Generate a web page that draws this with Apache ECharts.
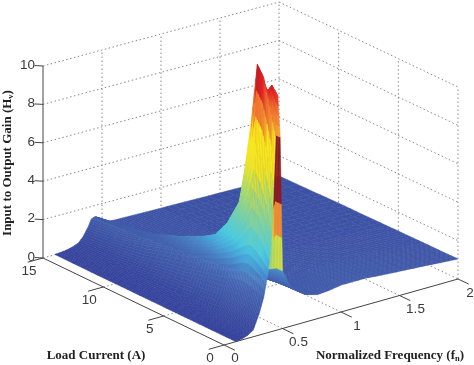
<!DOCTYPE html>
<html><head><meta charset="utf-8">
<style>html,body{margin:0;padding:0;background:#fff}#c{width:474px;height:365px}</style>
<script src="https://cdn.jsdelivr.net/npm/echarts@6/dist/echarts.min.js"></script>
</head><body><div id="c"></div>
<script>
// Data
var frequency = [0.1,0.15,0.2,0.25,0.3,0.34,0.38,0.41,0.44,0.46,0.48,0.5,0.55,0.6,0.7,0.8,0.9,1,1.2,1.4,1.7,2];
var current = [0,0.5,1,1.5,2,2.5,3,4,5,6,8,10,12,15];
var gain = [
 [.01,.05,.15,.35,1.1,1.9,3.2,5,10,12.2,10,3,2.3,1.85,1.42,1.25,1.3,1.4,1.4,1.3,1.18,1.04],
 [.01,.05,.15,.4,1.1,2,3.6,6.5,11.5,12.6,10,3,2.25,1.85,1.42,1.26,1.29,1.38,1.38,1.29,1.17,1.04],
 [.01,.05,.16,.45,1.15,2.1,3.9,7.5,12.9,12,8,2.8,2.2,1.82,1.42,1.27,1.28,1.35,1.35,1.28,1.16,1.03],
 [.01,.05,.17,.48,1.2,2.2,4.1,8,13.4,11,6,2.7,2.1,1.8,1.42,1.27,1.26,1.32,1.32,1.26,1.15,1.03],
 [.01,.05,.18,.5,1.2,2.2,3.9,6.5,10.3,8,4.5,2.6,2.05,1.75,1.4,1.25,1.25,1.3,1.3,1.25,1.15,1.03],
 [.01,.05,.18,.5,1.2,2.1,3.6,5.5,7.8,6.2,3.8,2.4,2,1.7,1.38,1.24,1.24,1.28,1.28,1.23,1.14,1.03],
 [.01,.05,.18,.5,1.15,2,3.3,4.6,5.8,5,3.3,2.3,1.9,1.65,1.36,1.23,1.23,1.26,1.26,1.21,1.13,1.03],
 [.01,.05,.17,.45,1.1,1.85,2.9,3.8,4.4,4.1,3,2.2,1.75,1.55,1.33,1.22,1.21,1.22,1.22,1.18,1.11,1.02],
 [.01,.04,.16,.42,1,1.7,2.6,3.2,3.5,3.35,2.7,2.1,1.65,1.45,1.3,1.2,1.2,1.2,1.2,1.15,1.1,1.02],
 [.01,.04,.15,.38,.9,1.5,2.3,2.85,3.1,3,2.5,2,1.55,1.35,1.25,1.17,1.16,1.16,1.16,1.12,1.07,1.01],
 [.01,.04,.13,.32,.75,1.25,1.9,2.3,2.5,2.4,2.1,1.75,1.4,1.25,1.17,1.1,1.1,1.1,1.1,1.08,1.03,1],
 [.01,.04,.11,.26,.55,.95,1.5,1.85,2,1.95,1.75,1.5,1.25,1.15,1.1,1.05,1.05,1.05,1.05,1.05,1,1],
 [.01,.03,.1,.2,.42,.75,1.2,1.55,1.7,1.65,1.5,1.3,1.1,1.05,1.03,1,1,.99,.98,.97,.95,.97],
 [.02,.04,.08,.16,.28,.55,.95,1.35,1.42,1.35,1.25,1.15,1,.97,.96,.95,.94,.93,.92,.9,.88,.94]
];
var gainTicks = [0,2,4,6,8,10];
var frequencyTicks = [0,0.5,1,1.5,2];
var currentTicks = [0,5,10,15];
var gainStops = [0,1,2,2.6,3.3,4,5.5,7,8,9.8,10.2,11.5,12.3,13.4];
var gainColors = ['#33409a','#3d53a5','#4464b0','#4a7cc0','#49a8da','#4ccbe0','#7fd0a0','#b8dc5c','#f0e428','#f8e81c','#f4a030','#ee6a30','#e02024','#8a1c20'];

// View of the box
var cornerL=[43,258], cornerF=[224,345], cornerR=[458,279], cornerB=[279,194], unitZ=19.2, cellSplit=4;
function project(f,i,z){
  var u=f/2, v=i/15, a=(1-u)*(1-v), b=u*(1-v), c=u*v, d=(1-u)*v;
  return [a*cornerF[0]+b*cornerR[0]+c*cornerB[0]+d*cornerL[0],
          a*cornerF[1]+b*cornerR[1]+c*cornerB[1]+d*cornerL[1]-z*unitZ];
}
function hex(s){return [parseInt(s.substr(1,2),16),parseInt(s.substr(3,2),16),parseInt(s.substr(5,2),16)];}
function colorOf(z){
  if(z>=gainStops[gainStops.length-1]) return gainColors[gainColors.length-1];
  for(var k=0;k<gainStops.length-1;k++){
    if(z<gainStops[k+1]){
      var t=Math.max(0,(z-gainStops[k])/(gainStops[k+1]-gainStops[k])),a=hex(gainColors[k]),b=hex(gainColors[k+1]);
      return 'rgb('+[0,1,2].map(function(n){return Math.round(a[n]+(b[n]-a[n])*t);}).join(',')+')';
    }
  }
}

// quads far to near
var quads=[];
for(var r=current.length-2;r>=0;r--) for(var q=frequency.length-2;q>=0;q--) quads.push([q,r]);

var lineItems=[];
function seg(a,b,kind){lineItems.push(a.concat(b).concat([kind]));}
// dotted walls and floor
gainTicks.forEach(function(z){
  seg([0,15,z],[2,15,z],0); seg([2,15,z],[2,0,z],0);
});
frequencyTicks.forEach(function(f){
  if(f>0) seg([f,15,0],[f,15,10],0);
  if(f>0&&f<2) seg([f,0,0],[f,15,0],0);
});
currentTicks.forEach(function(i){
  if(i<15) seg([2,i,0],[2,i,10],0);
  if(i>0&&i<15) seg([0,i,0],[2,i,0],0);
});
// solid axes
seg([0,15,0],[0,0,0],1); seg([0,0,0],[2,0,0],1); seg([0,15,0],[0,15,10],1);
frequencyTicks.forEach(function(f){seg([f,0,0],[f,-0.9,0],1);});
currentTicks.forEach(function(i){seg([0,i,0],[-0.13,i,0],1);});
gainTicks.forEach(function(z){seg([0,15,z],[-0.04,15.3,z],1);});

var textItems=[];
gainTicks.forEach(function(z){var p=project(0,15,z);textItems.push({x:p[0]-8,y:p[1]-1,t:String(z),a:'right'});});
currentTicks.forEach(function(i){var p=project(0,i,0);textItems.push({x:p[0]-14,y:p[1]+13,t:String(i),a:'center'});});
frequencyTicks.forEach(function(f){var p=project(f,0,0);textItems.push({x:p[0]+(f===0?11:f===2?12:16),y:p[1]+(f===0?13:14),t:String(f),a:'center'});});
var titleLeft='Load Current (A)', titleRight='Normalized Frequency (f{s|n})', titleZ='Input to Output Gain (H{s|v})';

var chart=echarts.init(document.getElementById('c'),null,{renderer:'canvas'});
function px(api,p){return api.coord(p);}
function lerpPt(a,b,t){return [a[0]+(b[0]-a[0])*t,a[1]+(b[1]-a[1])*t];}
chart.setOption({
  animation:false, backgroundColor:'#fff',
  grid:{left:0,right:0,top:0,bottom:0},
  xAxis:{type:'value',min:0,max:474,show:false},
  yAxis:{type:'value',min:0,max:365,inverse:true,show:false},
  series:[
   {type:'custom',coordinateSystem:'cartesian2d',silent:true,clip:false,z:1,
    data:lineItems.map(function(d,n){return [n];}).filter(function(d){return lineItems[d[0]][6]===0;}),
    renderItem:function(p,api){var d=lineItems[api.value(0)];
      var a=px(api,project(d[0],d[1],d[2])),b=px(api,project(d[3],d[4],d[5]));
      return {type:'line',shape:{x1:a[0],y1:a[1],x2:b[0],y2:b[1]},style:{stroke:'#8a8a8a',lineWidth:1,lineDash:[1.5,2.5],fill:null}};}},
   {type:'custom',coordinateSystem:'cartesian2d',silent:true,clip:false,z:2,
    data:lineItems.map(function(d,n){return [n];}).filter(function(d){return lineItems[d[0]][6]===1;}),
    renderItem:function(p,api){var d=lineItems[api.value(0)];
      var a=px(api,project(d[0],d[1],d[2])),b=px(api,project(d[3],d[4],d[5]));
      return {type:'line',shape:{x1:a[0],y1:a[1],x2:b[0],y2:b[1]},style:{stroke:'#444',lineWidth:1,fill:null}};}},
   {type:'custom',coordinateSystem:'cartesian2d',silent:true,clip:false,z:3,
    data:quads,
    renderItem:function(p,api){
      var q=api.value(0),r=api.value(1);
      var f0=frequency[q],f1=frequency[q+1],i0=current[r],i1=current[r+1];
      var z00=gain[r][q],z10=gain[r][q+1],z01=gain[r+1][q],z11=gain[r+1][q+1];
      var c=[project(f0,i0,z00),project(f1,i0,z10),project(f1,i1,z11),project(f0,i1,z01)].map(function(v){return px(api,v);});
      var back=((z00+z01)-(z10+z11)>5)?1.9:1;
      var kids=[],n=cellSplit;
      // far sub-cells first so the painter's order holds inside the cell
      for(var b=n-1;b>=0;b--) for(var a=n-1;a>=0;a--){
        var u0=a/n,u1=(a+1)/n,v0=b/n,v1=(b+1)/n;
        var P=function(u,v){return lerpPt(lerpPt(c[0],c[1],u),lerpPt(c[3],c[2],u),v);};
        var um=(u0+u1)/2,vm=(v0+v1)/2;
        var m=(z00*(1-um)+z10*um)*(1-vm)+(z01*(1-um)+z11*um)*vm;
        var col=colorOf(Math.min(13.4,m*back));
        kids.push({type:'polygon',shape:{points:[P(u0,v0),P(u1,v0),P(u1,v1),P(u0,v1)]},style:{fill:col,stroke:col,lineWidth:0.5}});
      }
      return {type:'group',children:kids};
    }},
   {type:'custom',coordinateSystem:'cartesian2d',silent:true,clip:false,z:4,
    data:textItems.map(function(d,n){return [n];}),
    renderItem:function(p,api){var d=textItems[api.value(0)],c=px(api,[d.x,d.y]);
      return {type:'text',x:c[0],y:c[1],style:{text:d.t,fontFamily:'Liberation Sans',fontSize:13.5,fill:'#3a3a3a',align:d.a,verticalAlign:'middle'}};}}
  ],
  graphic:[
    {type:'text',x:96,y:356,style:{text:titleLeft,font:'bold 13px "Liberation Serif"',fill:'#222',align:'center',verticalAlign:'middle'}},
    {type:'text',x:390,y:356,style:{text:titleRight,rich:{s:{fontSize:8.5,fontWeight:'bold',fontFamily:'Liberation Serif',fill:'#222',padding:[6,0,0,0]}},fontFamily:'Liberation Serif',fontWeight:'bold',fontSize:13,fill:'#222',align:'center',verticalAlign:'middle'}},
    {type:'text',x:8,y:163,rotation:Math.PI/2,style:{text:titleZ,rich:{s:{fontSize:8.5,fontWeight:'bold',fontFamily:'Liberation Serif',fill:'#222',padding:[6,0,0,0]}},fontFamily:'Liberation Serif',fontWeight:'bold',fontSize:13,fill:'#222',align:'center',verticalAlign:'middle'}}
  ]
});
</script></body></html>
